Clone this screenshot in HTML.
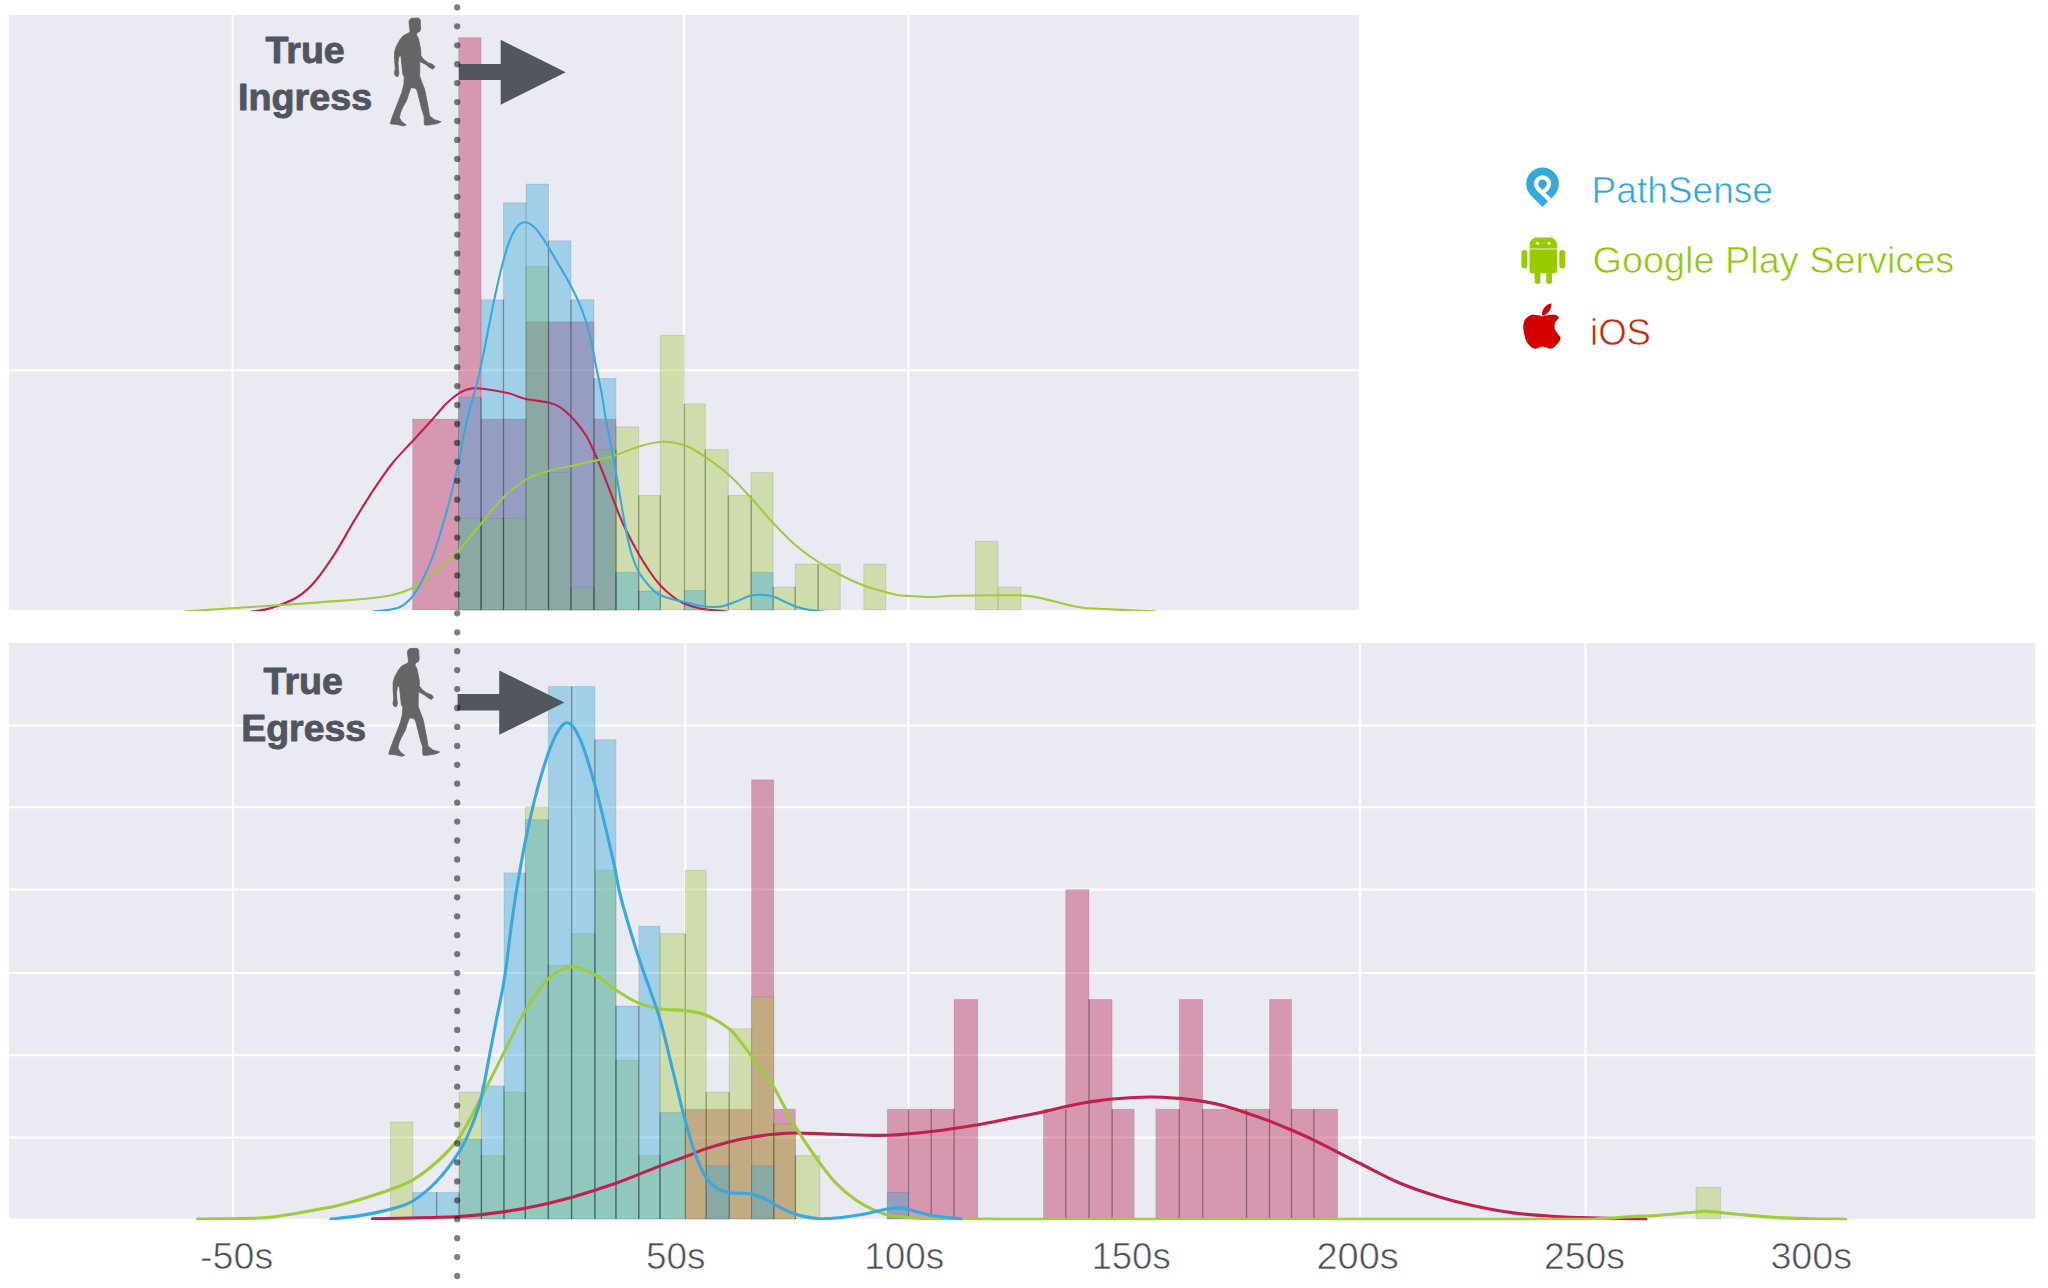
<!DOCTYPE html>
<html lang="en">
<head>
<meta charset="utf-8">
<title>True Ingress / True Egress detection latency</title>
<style>
html,body{margin:0;padding:0;background:#fff;}
body{width:2048px;height:1288px;overflow:hidden;}
svg{display:block;}
</style>
</head>
<body>
<svg width="2048" height="1288" viewBox="0 0 2048 1288">
<rect width="2048" height="1288" fill="#fff"/>
<rect x="8.9" y="15" width="1350.1" height="595" fill="#EAEAF2"/>
<line x1="232.5" y1="15" x2="232.5" y2="610" stroke="#fff" stroke-width="2"/>
<line x1="683.9" y1="15" x2="683.9" y2="610" stroke="#fff" stroke-width="2"/>
<line x1="908.4" y1="15" x2="908.4" y2="610" stroke="#fff" stroke-width="2"/>
<line x1="8.9" y1="370.2" x2="1359" y2="370.2" stroke="#fff" stroke-width="2"/>
<rect x="8.9" y="643" width="2026.4" height="575.7" fill="#EAEAF2"/>
<line x1="233" y1="643" x2="233" y2="1218.7" stroke="#fff" stroke-width="2"/>
<line x1="685.3" y1="643" x2="685.3" y2="1218.7" stroke="#fff" stroke-width="2"/>
<line x1="908.4" y1="643" x2="908.4" y2="1218.7" stroke="#fff" stroke-width="2"/>
<line x1="1360" y1="643" x2="1360" y2="1218.7" stroke="#fff" stroke-width="2"/>
<line x1="1585.5" y1="643" x2="1585.5" y2="1218.7" stroke="#fff" stroke-width="2"/>
<line x1="8.9" y1="725.5" x2="2035.3" y2="725.5" stroke="#fff" stroke-width="2"/>
<line x1="8.9" y1="807.3" x2="2035.3" y2="807.3" stroke="#fff" stroke-width="2"/>
<line x1="8.9" y1="889.6" x2="2035.3" y2="889.6" stroke="#fff" stroke-width="2"/>
<line x1="8.9" y1="973" x2="2035.3" y2="973" stroke="#fff" stroke-width="2"/>
<line x1="8.9" y1="1055.2" x2="2035.3" y2="1055.2" stroke="#fff" stroke-width="2"/>
<line x1="8.9" y1="1137.4" x2="2035.3" y2="1137.4" stroke="#fff" stroke-width="2"/>
<g id="top-bars">
<g fill="#B81B4D" fill-opacity="0.4" stroke="#000" stroke-opacity="0.10" stroke-width="1">
<rect x="412.6" y="419.1" width="46" height="190.9"/>
<rect x="458.6" y="37.6" width="22.5" height="572.4"/>
<rect x="481.1" y="419.1" width="44.9" height="190.9"/>
<rect x="526" y="321.7" width="68" height="288.3"/>
<rect x="594" y="419.1" width="22" height="190.9"/>
</g>
<g stroke="#000" stroke-opacity="0.20" stroke-width="1.5">
</g>
<g fill="#A4CA40" fill-opacity="0.4" stroke="#000" stroke-opacity="0.10" stroke-width="1">
<rect x="458.6" y="518.4" width="22.5" height="91.6"/>
<rect x="481.1" y="518.4" width="22.4" height="91.6"/>
<rect x="503.5" y="518.4" width="22.5" height="91.6"/>
<rect x="526" y="266.5" width="22.5" height="343.5"/>
<rect x="548.5" y="472.6" width="22.5" height="137.4"/>
<rect x="571" y="587.1" width="23" height="22.9"/>
<rect x="594" y="449.7" width="22" height="160.3"/>
<rect x="616" y="426.8" width="22.7" height="183.2"/>
<rect x="638.7" y="495.5" width="21.6" height="114.5"/>
<rect x="660.3" y="335.2" width="24.1" height="274.8"/>
<rect x="684.4" y="403.9" width="20.9" height="206.1"/>
<rect x="705.3" y="449.7" width="23" height="160.3"/>
<rect x="728.3" y="495.5" width="23" height="114.5"/>
<rect x="751.2" y="472.6" width="21.9" height="137.4"/>
<rect x="773.1" y="587.1" width="22.1" height="22.9"/>
<rect x="795.2" y="564.2" width="22.9" height="45.8"/>
<rect x="818.1" y="564.2" width="22.2" height="45.8"/>
<rect x="863.8" y="564.2" width="22" height="45.8"/>
<rect x="975.4" y="541.3" width="22.6" height="68.7"/>
<rect x="998" y="587.1" width="23" height="22.9"/>
</g>
<g stroke="#000" stroke-opacity="0.20" stroke-width="1.5">
<line x1="481.1" y1="518.4" x2="481.1" y2="610"/>
<line x1="503.5" y1="518.4" x2="503.5" y2="610"/>
<line x1="548.5" y1="472.6" x2="548.5" y2="610"/>
<line x1="571" y1="587.1" x2="571" y2="610"/>
<line x1="594" y1="587.1" x2="594" y2="610"/>
<line x1="616" y1="449.7" x2="616" y2="610"/>
<line x1="638.7" y1="495.5" x2="638.7" y2="610"/>
<line x1="660.3" y1="495.5" x2="660.3" y2="610"/>
<line x1="684.4" y1="403.9" x2="684.4" y2="610"/>
<line x1="705.3" y1="449.7" x2="705.3" y2="610"/>
<line x1="728.3" y1="495.5" x2="728.3" y2="610"/>
<line x1="751.2" y1="495.5" x2="751.2" y2="610"/>
<line x1="773.1" y1="587.1" x2="773.1" y2="610"/>
<line x1="795.2" y1="587.1" x2="795.2" y2="610"/>
<line x1="818.1" y1="564.2" x2="818.1" y2="610"/>
</g>
<g fill="#38A8DA" fill-opacity="0.4" stroke="#000" stroke-opacity="0.10" stroke-width="1">
<rect x="458.6" y="397.2" width="22.5" height="212.8"/>
<rect x="481.1" y="299.8" width="22.4" height="310.2"/>
<rect x="503.5" y="202.8" width="22.5" height="407.2"/>
<rect x="526" y="184" width="22.5" height="426"/>
<rect x="548.5" y="240.8" width="22.5" height="369.2"/>
<rect x="571" y="299.8" width="23" height="310.2"/>
<rect x="594" y="378.4" width="22" height="231.6"/>
<rect x="616" y="572.4" width="22.7" height="37.6"/>
<rect x="638.7" y="591" width="21.6" height="19"/>
<rect x="684.4" y="590.6" width="20.9" height="19.4"/>
<rect x="751.2" y="572.4" width="21.9" height="37.6"/>
</g>
<g stroke="#000" stroke-opacity="0.20" stroke-width="1.5">
<line x1="481.1" y1="397.2" x2="481.1" y2="610"/>
<line x1="503.5" y1="299.8" x2="503.5" y2="610"/>
<line x1="548.5" y1="240.8" x2="548.5" y2="610"/>
<line x1="571" y1="299.8" x2="571" y2="610"/>
<line x1="594" y1="378.4" x2="594" y2="610"/>
<line x1="616" y1="572.4" x2="616" y2="610"/>
<line x1="638.7" y1="591" x2="638.7" y2="610"/>
</g>
</g>
<g id="bot-bars">
<g fill="#B81B4D" fill-opacity="0.4" stroke="#000" stroke-opacity="0.10" stroke-width="1">
<rect x="685.3" y="1109.2" width="66.3" height="109.8"/>
<rect x="751.6" y="779.8" width="22.2" height="439.2"/>
<rect x="773.8" y="1109.2" width="21.6" height="109.8"/>
<rect x="887.3" y="1109.2" width="21.2" height="109.8"/>
<rect x="908.5" y="1109.2" width="22.7" height="109.8"/>
<rect x="931.2" y="1109.2" width="22.9" height="109.8"/>
<rect x="954.1" y="999.4" width="23.7" height="219.6"/>
<rect x="1043.5" y="1109.2" width="22.2" height="109.8"/>
<rect x="1065.7" y="889.6" width="23.3" height="329.4"/>
<rect x="1089" y="999.4" width="23.1" height="219.6"/>
<rect x="1112.1" y="1109.2" width="22.1" height="109.8"/>
<rect x="1155.8" y="1109.2" width="23.5" height="109.8"/>
<rect x="1179.3" y="999.4" width="23.4" height="219.6"/>
<rect x="1202.7" y="1109.2" width="43.8" height="109.8"/>
<rect x="1246.5" y="1109.2" width="23" height="109.8"/>
<rect x="1269.5" y="999.4" width="22" height="219.6"/>
<rect x="1291.5" y="1109.2" width="22.4" height="109.8"/>
<rect x="1313.9" y="1109.2" width="23.7" height="109.8"/>
</g>
<g stroke="#000" stroke-opacity="0.20" stroke-width="1.5">
<line x1="908.5" y1="1109.2" x2="908.5" y2="1219"/>
<line x1="931.2" y1="1109.2" x2="931.2" y2="1219"/>
<line x1="954.1" y1="1109.2" x2="954.1" y2="1219"/>
<line x1="1065.7" y1="1109.2" x2="1065.7" y2="1219"/>
<line x1="1089" y1="999.4" x2="1089" y2="1219"/>
<line x1="1112.1" y1="1109.2" x2="1112.1" y2="1219"/>
<line x1="1179.3" y1="1109.2" x2="1179.3" y2="1219"/>
<line x1="1202.7" y1="1109.2" x2="1202.7" y2="1219"/>
<line x1="1246.5" y1="1109.2" x2="1246.5" y2="1219"/>
<line x1="1269.5" y1="1109.2" x2="1269.5" y2="1219"/>
<line x1="1291.5" y1="1109.2" x2="1291.5" y2="1219"/>
<line x1="1313.9" y1="1109.2" x2="1313.9" y2="1219"/>
</g>
<g fill="#A4CA40" fill-opacity="0.4" stroke="#000" stroke-opacity="0.10" stroke-width="1">
<rect x="390.6" y="1122" width="22.2" height="97"/>
<rect x="459.1" y="1092.2" width="22.3" height="126.8"/>
<rect x="481.4" y="1155.6" width="22.6" height="63.4"/>
<rect x="504" y="1092.2" width="21.3" height="126.8"/>
<rect x="525.3" y="806.9" width="23" height="412.1"/>
<rect x="548.3" y="965.4" width="23.3" height="253.6"/>
<rect x="571.6" y="933.7" width="23.3" height="285.3"/>
<rect x="594.9" y="870.3" width="21.1" height="348.7"/>
<rect x="616" y="1060.5" width="22.8" height="158.5"/>
<rect x="638.8" y="1155.6" width="21.2" height="63.4"/>
<rect x="660" y="933.7" width="25.3" height="285.3"/>
<rect x="685.3" y="870.3" width="20.9" height="348.7"/>
<rect x="706.2" y="1092.2" width="23" height="126.8"/>
<rect x="729.2" y="1028.8" width="22.4" height="190.2"/>
<rect x="751.6" y="997.1" width="22.2" height="221.9"/>
<rect x="773.8" y="1123.9" width="21.6" height="95.1"/>
<rect x="795.4" y="1155.6" width="24.5" height="63.4"/>
<rect x="1696" y="1187.3" width="24.6" height="31.7"/>
</g>
<g stroke="#000" stroke-opacity="0.20" stroke-width="1.5">
<line x1="481.4" y1="1155.6" x2="481.4" y2="1219"/>
<line x1="504" y1="1155.6" x2="504" y2="1219"/>
<line x1="525.3" y1="1092.2" x2="525.3" y2="1219"/>
<line x1="548.3" y1="965.4" x2="548.3" y2="1219"/>
<line x1="571.6" y1="965.4" x2="571.6" y2="1219"/>
<line x1="594.9" y1="933.7" x2="594.9" y2="1219"/>
<line x1="616" y1="1060.5" x2="616" y2="1219"/>
<line x1="638.8" y1="1155.6" x2="638.8" y2="1219"/>
<line x1="660" y1="1155.6" x2="660" y2="1219"/>
<line x1="685.3" y1="933.7" x2="685.3" y2="1219"/>
<line x1="706.2" y1="1092.2" x2="706.2" y2="1219"/>
<line x1="729.2" y1="1092.2" x2="729.2" y2="1219"/>
<line x1="773.8" y1="1123.9" x2="773.8" y2="1219"/>
<line x1="795.4" y1="1155.6" x2="795.4" y2="1219"/>
</g>
<g fill="#38A8DA" fill-opacity="0.4" stroke="#000" stroke-opacity="0.10" stroke-width="1">
<rect x="412.8" y="1192.4" width="23.8" height="26.6"/>
<rect x="436.6" y="1192.4" width="22.5" height="26.6"/>
<rect x="459.1" y="1139.1" width="22.3" height="79.9"/>
<rect x="481.4" y="1085.9" width="22.6" height="133.1"/>
<rect x="504" y="872.9" width="21.3" height="346.1"/>
<rect x="525.3" y="819.7" width="23" height="399.3"/>
<rect x="548.3" y="686.6" width="23.3" height="532.4"/>
<rect x="571.6" y="686.6" width="23.3" height="532.4"/>
<rect x="594.9" y="739.8" width="21.1" height="479.2"/>
<rect x="616" y="1006" width="22.8" height="213"/>
<rect x="638.8" y="926.2" width="21.2" height="292.8"/>
<rect x="660" y="1112.5" width="25.3" height="106.5"/>
<rect x="706.2" y="1165.8" width="23" height="53.2"/>
<rect x="751.6" y="1165.8" width="22.2" height="53.2"/>
<rect x="887.3" y="1192.4" width="21.2" height="26.6"/>
</g>
<g stroke="#000" stroke-opacity="0.20" stroke-width="1.5">
<line x1="436.6" y1="1192.4" x2="436.6" y2="1219"/>
<line x1="459.1" y1="1192.4" x2="459.1" y2="1219"/>
<line x1="481.4" y1="1139.1" x2="481.4" y2="1219"/>
<line x1="504" y1="1085.9" x2="504" y2="1219"/>
<line x1="525.3" y1="872.9" x2="525.3" y2="1219"/>
<line x1="548.3" y1="819.7" x2="548.3" y2="1219"/>
<line x1="571.6" y1="686.6" x2="571.6" y2="1219"/>
<line x1="594.9" y1="739.8" x2="594.9" y2="1219"/>
<line x1="616" y1="1006" x2="616" y2="1219"/>
<line x1="638.8" y1="1006" x2="638.8" y2="1219"/>
<line x1="660" y1="1112.5" x2="660" y2="1219"/>
</g>
</g>
<clipPath id="ct"><rect x="0" y="0" width="2048" height="610.9"/></clipPath><clipPath id="cb"><rect x="0" y="630" width="2048" height="590.3"/></clipPath>
<g id="top-curves" clip-path="url(#ct)">
<path d="M251 611.6C253.3 611.3 260.5 610.6 265 609.6C269.5 608.6 272.6 607.9 278 605.8C283.4 603.7 291.3 601 297.5 597C303.7 593 308.9 588.6 315 581.5C321.1 574.4 327.9 564.4 334.4 554.4C340.9 544.4 347.3 532.1 353.8 521.4C360.3 510.7 366.7 500 373.2 490.3C379.7 480.6 386.1 471.1 392.6 463C399.1 454.9 405.5 448.9 412 441.8C418.5 434.7 425.6 427 431.4 420.5C437.2 414 442.1 407.7 447 403C451.9 398.3 456.4 394.7 460.5 392.3C464.6 389.9 467.7 388.9 471.8 388.4C475.9 387.8 478.9 388.2 485 389C491.1 389.8 501.8 391.6 508.7 393.3C515.5 395 519.5 397.6 526.1 399.1C532.7 400.6 542.7 401.1 548.5 402.5C554.3 403.9 556.6 404.8 561 407.8C565.4 410.8 570.5 415.8 574.7 420.5C578.9 425.2 583.1 430.8 586.3 436C589.5 441.2 591.1 445 594 451.5C596.9 458 600.3 466.1 603.8 474.8C607.3 483.6 611.5 495.1 615 504C618.5 512.9 621 519.7 625 528C629 536.3 634.5 546.7 638.7 554C642.9 561.3 646.5 566.8 650 572C653.5 577.2 656.3 581 660 585C663.7 589 668.2 593 672 596C675.8 599 678.3 600.9 683 603C687.7 605.1 692.7 607.1 700 608.5C707.3 609.9 722.5 611.1 727 611.6" fill="none" stroke="#C0204E" stroke-width="2.1" stroke-linecap="round" stroke-linejoin="round"/>
<path d="M184 611.6C191.9 611 214.5 609.4 231.5 608.3C248.5 607.2 270.3 605.9 285.8 604.8C301.3 603.7 311.8 602.9 324.7 601.9C337.6 600.9 352.2 600.1 363.5 599C374.8 597.9 384.5 596.8 392.6 595C400.7 593.2 405.5 591.5 412 588.3C418.5 585.1 425.6 580.1 431.4 575.7C437.2 571.3 442.1 566.5 447 562C451.9 557.5 454.8 555 460.5 548.5C466.2 542 474.4 531.7 481.5 523.3C488.6 514.9 495.5 505.3 502.9 498C510.3 490.7 518.4 484.1 526 479.6C533.6 475.1 541 473.3 548.5 471C556 468.7 563.2 467.7 570.8 466C578.4 464.3 586.6 462.8 594 461C601.4 459.2 607.5 457.8 615 455.4C622.5 453 630.9 449 638.7 446.7C646.5 444.4 654.6 442.1 662 441.8C669.4 441.5 676.7 442.8 683 444.7C689.3 446.6 692.4 448.4 700 453.4C707.6 458.4 720.2 467.4 728.7 474.8C737.2 482.2 743.5 489.9 751 498C758.5 506.1 766.1 515.5 773.4 523.3C780.7 531.1 787.5 538.2 795 544.7C802.5 551.2 810.9 557 818.4 562C825.9 567 832.5 570.8 840 574.7C847.5 578.6 855.9 582.5 863.6 585.4C871.3 588.3 880.7 590.6 886.3 592.2C891.9 593.8 893.1 594.4 897 595C900.9 595.6 904.3 595.7 909.6 596C914.9 596.3 921.9 597 929 597C936.1 597 942.7 596.1 952 595.8C961.3 595.5 973.4 595.5 985 595.4C996.6 595.3 1012 594.9 1021.5 595.4C1031 595.9 1035.2 597 1042 598.4C1048.8 599.8 1055.7 602 1062.5 603.6C1069.3 605.2 1072.8 606.7 1083 607.7C1093.2 608.8 1112 609.3 1124 609.9C1136 610.5 1149.7 611.1 1154.8 611.4" fill="none" stroke="#9FCC3A" stroke-width="2.1" stroke-linecap="round" stroke-linejoin="round"/>
<path d="M373 611.6C377.2 611 391.9 610.1 398.4 607.7C404.9 605.3 408.1 601.4 412 597C415.9 592.6 418.5 587.7 421.7 581.5C424.9 575.3 428.2 568.4 431.4 560C434.6 551.6 437.8 541.7 441 531C444.2 520.3 447.9 507.3 450.8 496C453.7 484.7 456.3 473.7 458.6 463C460.9 452.3 462.5 441.2 464.4 432C466.3 422.8 467.8 416.5 470 408C472.2 399.5 475 391.7 477.6 381C480.2 370.3 482.8 356.6 485.4 344C488 331.4 490.5 317.5 493.1 305.2C495.7 292.9 498.3 280.7 500.9 270.3C503.5 259.9 506.1 250.2 508.7 243.1C511.3 236 513.8 231.1 516.4 227.6C519 224.1 521.3 222.3 524.2 222.2C527.1 222 530.7 223.8 533.9 226.7C537.1 229.5 540 234 543.6 239.3C547.2 244.6 550.7 250.9 555.2 258.7C559.7 266.4 566.3 277.1 570.8 285.8C575.3 294.5 579.2 302.6 582.4 311C585.6 319.4 587.9 327.1 590.2 336.3C592.5 345.5 594.1 356.4 596 366C597.9 375.6 600.2 385.2 601.8 394C603.4 402.8 603.5 406.3 605.7 418.5C607.9 430.7 611.8 449.2 615 467C618.2 484.8 622.3 510.8 625 525C627.7 539.2 628.7 544.2 631 552C633.3 559.8 635.5 565.9 638.7 571.8C641.9 577.7 646.8 583.4 650.3 587.3C653.8 591.2 655.8 592.9 660 595C664.2 597.1 670.4 598.6 675.6 600C680.8 601.4 686.9 602.5 691 603.5C695.1 604.5 695.3 605.2 700 605.8C704.7 606.3 713.2 607.4 719 606.8C724.8 606.2 729.7 603.9 735 602C740.3 600.1 746.2 596.7 751 595.5C755.8 594.3 760.3 594.8 764 595C767.7 595.2 769.4 595.3 773 596.5C776.6 597.7 781.4 600.2 785.4 602C789.4 603.8 792.9 605.7 797 607C801.1 608.3 805.5 609.2 810 610C814.5 610.8 821.7 611.3 824 611.6" fill="none" stroke="#37A9DC" stroke-width="2.1" stroke-linecap="round" stroke-linejoin="round"/>
</g>
<g id="bot-curves" clip-path="url(#cb)">
<path d="M372.4 1218.8C380.3 1218.6 405.6 1218.2 420 1217.8C434.4 1217.4 448.8 1217 459 1216.5C469.2 1216 470.4 1216 481.4 1214.6C492.4 1213.2 510.2 1211.2 525.2 1208.3C540.2 1205.4 556.2 1201.6 571.3 1197.4C586.4 1193.2 601.1 1188.5 615.8 1183.3C630.5 1178.1 647.9 1170.5 659.5 1166.1C671.1 1161.7 677.6 1159.7 685.3 1156.8C693 1153.9 698.3 1151.4 705.6 1148.9C712.9 1146.4 721.6 1143.8 729 1141.9C736.4 1140 742.5 1138.8 750 1137.5C757.5 1136.2 766.1 1135 773.7 1134.3C781.3 1133.5 785 1133 795.4 1133C805.8 1133 821 1133.9 836.3 1134.3C851.6 1134.7 871.5 1135.8 887.3 1135.3C903.1 1134.8 916.1 1133.3 931.2 1131.5C946.3 1129.7 964.8 1126.9 977.8 1124.7C990.8 1122.5 999.1 1120.5 1009.5 1118.5C1019.9 1116.5 1030.6 1114.5 1040 1112.5C1049.4 1110.5 1057.7 1108.2 1066 1106.4C1074.3 1104.7 1081.9 1103.2 1089.6 1102C1097.3 1100.8 1102.4 1099.8 1112.3 1099C1122.2 1098.2 1138 1097.1 1149.2 1097C1160.4 1096.9 1170.3 1097.7 1179.3 1098.4C1188.2 1099.1 1195.6 1100.2 1202.9 1101.4C1210.2 1102.6 1215.7 1103.6 1223 1105.5C1230.3 1107.4 1238.7 1110.4 1246.5 1113C1254.3 1115.6 1262.1 1118.3 1269.6 1121.1C1277.1 1123.9 1283.9 1126.8 1291.4 1130C1298.9 1133.2 1306.7 1136.6 1314.4 1140.3C1322.1 1144 1329.8 1148.2 1337.4 1152.1C1345 1156 1350.1 1158.5 1360.2 1163.5C1370.3 1168.5 1385.1 1176.8 1397.8 1182.2C1410.5 1187.6 1423.5 1192 1436.3 1196C1449.1 1200 1462 1203.2 1474.8 1206C1487.6 1208.8 1500.5 1211.2 1513.3 1212.9C1526.1 1214.6 1539 1215.4 1551.8 1216.2C1564.6 1217 1574.6 1217.4 1590.3 1217.9C1606 1218.4 1636.7 1219.2 1646 1219.4" fill="none" stroke="#C0204E" stroke-width="3.1" stroke-linecap="round" stroke-linejoin="round"/>
<path d="M197.5 1219.1C204.6 1219 227.4 1218.8 240 1218.5C252.6 1218.2 258.7 1218.8 273 1217C287.3 1215.2 314.6 1210 325.8 1208C337 1206 333.5 1206.7 340 1205C346.5 1203.3 356.6 1200.6 365 1198C373.4 1195.4 382.4 1192.5 390.4 1189.5C398.4 1186.5 405.1 1184.6 412.8 1180C420.5 1175.4 429 1169 436.7 1162C444.4 1155 451.6 1148.8 459 1138C466.4 1127.2 473.8 1111.4 481.4 1097C489 1082.6 497.3 1065.8 504.6 1051.4C511.9 1037 518 1022.7 525.4 1010.6C532.8 998.5 540.9 985.9 548.7 978.6C556.5 971.3 564.3 967.6 572 967C579.7 966.4 587.3 970.8 594.7 974.7C602.1 978.6 608.9 985.5 616.2 990.2C623.5 994.9 630.9 999.8 638.3 1002.9C645.6 1006 652.4 1007.7 660.3 1009C668.2 1010.3 677.8 1009.5 685.5 1010.6C693.2 1011.7 699.5 1012.4 706.8 1015.5C714.1 1018.6 724 1024.8 729.5 1029C735 1033.2 736.3 1036.5 740 1041C743.7 1045.5 748.2 1051.7 751.5 1056C754.8 1060.3 756.3 1061.8 760 1067C763.7 1072.2 767.8 1077.1 773.7 1087C779.6 1096.9 787.7 1113.9 795.4 1126.6C803.1 1139.3 813.1 1153.7 819.9 1163.2C826.7 1172.7 830.4 1177.3 836.3 1183.4C842.2 1189.5 849.1 1195.3 855.5 1199.8C861.9 1204.3 868.4 1207.7 874.8 1210.4C881.2 1213.1 884.4 1214.8 894 1216.2C903.6 1217.6 914.8 1218.3 932.5 1218.8C950.2 1219.3 978.8 1219.1 1000 1219.2C1021.2 1219.3 1010 1219.3 1060 1219.3C1110 1219.3 1216.7 1219.3 1300 1219.3C1383.3 1219.3 1510 1219.4 1560 1219.3C1610 1219.2 1588.5 1219 1600 1218.6C1611.5 1218.2 1618.8 1217.3 1628.8 1216.7C1638.8 1216.1 1648.8 1216 1660 1215.2C1671.2 1214.4 1688 1212.6 1696 1212C1704 1211.4 1701.2 1211 1708 1211.4C1714.8 1211.8 1725.8 1213.2 1737 1214.2C1748.2 1215.2 1763.3 1216.8 1775.5 1217.5C1787.7 1218.2 1798.3 1218.4 1810 1218.7C1821.7 1219 1839.8 1219.1 1845.8 1219.2" fill="none" stroke="#9FCC3A" stroke-width="3.1" stroke-linecap="round" stroke-linejoin="round"/>
<path d="M331 1219.1C336 1218.5 351.1 1217 361 1215.4C370.9 1213.8 381.8 1211.7 390.4 1209.3C399 1206.9 405.1 1205.7 412.8 1201C420.5 1196.3 429 1189.4 436.7 1181.3C444.4 1173.2 453.2 1161.2 459 1152.2C464.8 1143.2 467.6 1136 471.3 1127C475 1118 478.2 1109.5 481.2 1098C484.1 1086.5 486.5 1071 489 1058C491.5 1045 493.7 1033.7 496.3 1020.3C498.9 1006.9 502 994 504.6 977.6C507.2 961.2 509.6 937.6 511.8 922C514 906.4 515.3 897.5 517.6 884C519.9 870.5 522.2 856.4 525.4 840.8C528.6 825.2 533.1 805.1 537 790.3C540.9 775.5 545.5 761.4 548.7 752C551.9 742.6 554.2 738.4 556.4 734C558.6 729.6 560.2 727.5 562 725.6C563.8 723.7 565.3 722.8 567 722.8C568.7 722.8 570.5 724 572 725.4C573.5 726.8 574.1 727.3 576 731C577.9 734.7 580.3 738.5 583.5 747.7C586.7 756.9 591.7 773.5 595.3 786.4C598.9 799.3 601.9 812.4 605 825.3C608.1 838.2 611.3 851.9 614 864C616.7 876.1 617 882.6 621 898C625 913.4 633.6 941.5 638.3 956.3C643 971.1 645.3 976.3 649 987C652.7 997.7 656.3 1006.3 660.3 1020.3C664.3 1034.3 668.7 1054 672.9 1070.8C677.1 1087.6 681.4 1106.7 685.3 1121C689.2 1135.3 692.9 1147.5 696.3 1156.8C699.7 1166.1 702.2 1171.8 705.6 1177C709 1182.2 712.7 1185.4 716.6 1188C720.5 1190.6 725.1 1191.8 729 1192.7C732.9 1193.6 736.2 1193 740 1193.2C743.8 1193.5 747.4 1193.3 751.6 1194.2C755.8 1195.1 760.5 1196.8 765 1198.8C769.5 1200.8 773.4 1203.9 778.5 1206.5C783.6 1209.1 789 1212.2 795.4 1214.2C801.8 1216.2 810.2 1217.9 817 1218.5C823.8 1219.1 828.6 1218.7 836.3 1218C844 1217.3 854.7 1215.7 863.2 1214.2C871.7 1212.7 881.8 1210 887.3 1209C892.8 1208 892.5 1207.8 896 1207.9C899.5 1208 902.6 1208.2 908.5 1209.4C914.4 1210.6 922.4 1213.6 931.2 1215.2C940 1216.8 956.4 1218.4 961.4 1219" fill="none" stroke="#37A9DC" stroke-width="3.1" stroke-linecap="round" stroke-linejoin="round"/>
</g>
<path d="M409.1 20.7 L411.1 18.3 L418.8 18 L420.3 20.2 L420.3 24.6 L420.8 28 L419.8 31.4 L417.4 32.5 L416.4 34.8 L418.3 38.2 L419.8 45 L420.8 50.8 L420.8 55.6 L423.7 59.5 L428.5 62.9 L432.9 64.4 L434.9 66.8 L432.9 69.2 L430 67.8 L425.6 64.4 L420.8 61.9 L419.8 61.5 L419.8 68.3 L419.6 76 L421.7 81.8 L424.7 89.6 L426.6 99.3 L428.5 109 L429.5 115.8 L434.4 119.7 L441.2 121.7 L437.3 123.6 L428.5 125 L424.7 125 L424.2 122.6 L424.2 116.8 L421.7 109 L419.3 99.3 L417.4 91.6 L415.9 88.6 L413 87.7 L411.1 87.7 L409.1 92.5 L406.7 100.3 L402.8 107.1 L400.4 112.9 L399.4 117.8 L401.8 121.7 L406.2 125 L403.3 126 L397.5 124.6 L390.2 123.8 L391.7 118.7 L394.6 111 L398.4 101.3 L401.8 92.5 L403.8 84.8 L404.3 77 L402.8 74.1 L401.8 64.4 L400.9 55.6 L398.9 56.6 L398 62.4 L398.4 69.2 L398.9 73.1 L398 76.5 L395.5 76 L394.4 73.6 L395.3 68.3 L394.6 60.5 L394.6 51.7 L396.5 45.9 L400.4 39.1 L403.3 35.7 L408.2 33.3 L410.1 31.8 L409.6 27.5 L409.1 23.6Z" fill="#656568" stroke="#656568" stroke-width="0.8" stroke-linejoin="round"/>
<path d="M407.6 651 L409.6 648.6 L417.3 648.3 L418.8 650.5 L418.8 654.9 L419.3 658.3 L418.3 661.7 L415.9 662.8 L414.9 665.1 L416.8 668.5 L418.3 675.3 L419.3 681.1 L419.3 685.9 L422.2 689.8 L427 693.2 L431.4 694.7 L433.4 697.1 L431.4 699.5 L428.5 698.1 L424.1 694.7 L419.3 692.2 L418.3 691.8 L418.3 698.6 L418.1 706.3 L420.2 712.1 L423.2 719.9 L425.1 729.6 L427 739.3 L428 746.1 L432.9 750 L439.7 752 L435.8 753.9 L427 755.3 L423.2 755.3 L422.7 752.9 L422.7 747.1 L420.2 739.3 L417.8 729.6 L415.9 721.9 L414.4 718.9 L411.5 718 L409.6 718 L407.6 722.8 L405.2 730.6 L401.3 737.4 L398.9 743.2 L397.9 748.1 L400.3 752 L404.7 755.3 L401.8 756.3 L396 754.9 L388.7 754.1 L390.2 749 L393.1 741.3 L396.9 731.6 L400.3 722.8 L402.3 715.1 L402.8 707.3 L401.3 704.4 L400.3 694.7 L399.4 685.9 L397.4 686.9 L396.5 692.7 L396.9 699.5 L397.4 703.4 L396.5 706.8 L394 706.3 L392.9 703.9 L393.8 698.6 L393.1 690.8 L393.1 682 L395 676.2 L398.9 669.4 L401.8 666 L406.7 663.6 L408.6 662.1 L408.1 657.8 L407.6 653.9Z" fill="#656568" stroke="#656568" stroke-width="0.8" stroke-linejoin="round"/>
<path d="M459 64 H500.7 V39.8 L565.7 72.2 L500.7 104.7 V79.9 H459 Z" fill="#52565F"/>
<path d="M457.6 694.1 H499.2 V670.5 L564.4 702.6 L499.2 734.8 V710.5 H457.6 Z" fill="#52565F"/>
<g fill="#000" fill-opacity="0.5">
<circle cx="457.2" cy="7.4" r="3.15"/>
<circle cx="457.2" cy="26.3" r="3.15"/>
<circle cx="457.2" cy="45.3" r="3.15"/>
<circle cx="457.2" cy="64.2" r="3.15"/>
<circle cx="457.2" cy="83.1" r="3.15"/>
<circle cx="457.2" cy="102.1" r="3.15"/>
<circle cx="457.2" cy="121" r="3.15"/>
<circle cx="457.2" cy="139.9" r="3.15"/>
<circle cx="457.2" cy="158.9" r="3.15"/>
<circle cx="457.2" cy="177.8" r="3.15"/>
<circle cx="457.2" cy="196.8" r="3.15"/>
<circle cx="457.2" cy="215.7" r="3.15"/>
<circle cx="457.2" cy="234.6" r="3.15"/>
<circle cx="457.2" cy="253.6" r="3.15"/>
<circle cx="457.2" cy="272.5" r="3.15"/>
<circle cx="457.2" cy="291.4" r="3.15"/>
<circle cx="457.2" cy="310.4" r="3.15"/>
<circle cx="457.2" cy="329.3" r="3.15"/>
<circle cx="457.2" cy="348.2" r="3.15"/>
<circle cx="457.2" cy="367.2" r="3.15"/>
<circle cx="457.2" cy="386.1" r="3.15"/>
<circle cx="457.2" cy="405" r="3.15"/>
<circle cx="457.2" cy="424" r="3.15"/>
<circle cx="457.2" cy="442.9" r="3.15"/>
<circle cx="457.2" cy="461.8" r="3.15"/>
<circle cx="457.2" cy="480.8" r="3.15"/>
<circle cx="457.2" cy="499.7" r="3.15"/>
<circle cx="457.2" cy="518.6" r="3.15"/>
<circle cx="457.2" cy="537.6" r="3.15"/>
<circle cx="457.2" cy="556.5" r="3.15"/>
<circle cx="457.2" cy="575.4" r="3.15"/>
<circle cx="457.2" cy="594.4" r="3.15"/>
<circle cx="457.2" cy="613.3" r="3.15"/>
<circle cx="457.2" cy="632.3" r="3.15"/>
<circle cx="457.2" cy="651.2" r="3.15"/>
<circle cx="457.2" cy="670.1" r="3.15"/>
<circle cx="457.2" cy="689.1" r="3.15"/>
<circle cx="457.2" cy="708" r="3.15"/>
<circle cx="457.2" cy="726.9" r="3.15"/>
<circle cx="457.2" cy="745.9" r="3.15"/>
<circle cx="457.2" cy="764.8" r="3.15"/>
<circle cx="457.2" cy="783.7" r="3.15"/>
<circle cx="457.2" cy="802.7" r="3.15"/>
<circle cx="457.2" cy="821.6" r="3.15"/>
<circle cx="457.2" cy="840.5" r="3.15"/>
<circle cx="457.2" cy="859.5" r="3.15"/>
<circle cx="457.2" cy="878.4" r="3.15"/>
<circle cx="457.2" cy="897.3" r="3.15"/>
<circle cx="457.2" cy="916.3" r="3.15"/>
<circle cx="457.2" cy="935.2" r="3.15"/>
<circle cx="457.2" cy="954.1" r="3.15"/>
<circle cx="457.2" cy="973.1" r="3.15"/>
<circle cx="457.2" cy="992" r="3.15"/>
<circle cx="457.2" cy="1011" r="3.15"/>
<circle cx="457.2" cy="1029.9" r="3.15"/>
<circle cx="457.2" cy="1048.8" r="3.15"/>
<circle cx="457.2" cy="1067.8" r="3.15"/>
<circle cx="457.2" cy="1086.7" r="3.15"/>
<circle cx="457.2" cy="1105.6" r="3.15"/>
<circle cx="457.2" cy="1124.6" r="3.15"/>
<circle cx="457.2" cy="1143.5" r="3.15"/>
<circle cx="457.2" cy="1162.4" r="3.15"/>
<circle cx="457.2" cy="1181.4" r="3.15"/>
<circle cx="457.2" cy="1200.3" r="3.15"/>
<circle cx="457.2" cy="1219.2" r="3.15"/>
<circle cx="457.2" cy="1238.2" r="3.15"/>
<circle cx="457.2" cy="1257.1" r="3.15"/>
<circle cx="457.2" cy="1276" r="3.15"/>
</g>
<text x="265.4" y="63.1" font-family="'Liberation Sans', Arial, Helvetica, sans-serif" font-size="37.2" font-weight="bold" fill="#51555E" text-anchor="start" stroke="#51555E" stroke-width="0.9" stroke-linejoin="round" textLength="79.4" lengthAdjust="spacingAndGlyphs">True</text>
<text x="238" y="110.3" font-family="'Liberation Sans', Arial, Helvetica, sans-serif" font-size="37.2" font-weight="bold" fill="#51555E" text-anchor="start" stroke="#51555E" stroke-width="0.9" stroke-linejoin="round" textLength="134.2" lengthAdjust="spacingAndGlyphs">Ingress</text>
<text x="263.5" y="694.3" font-family="'Liberation Sans', Arial, Helvetica, sans-serif" font-size="37.2" font-weight="bold" fill="#51555E" text-anchor="start" stroke="#51555E" stroke-width="0.9" stroke-linejoin="round" textLength="79.4" lengthAdjust="spacingAndGlyphs">True</text>
<text x="241.2" y="741.3" font-family="'Liberation Sans', Arial, Helvetica, sans-serif" font-size="37.2" font-weight="bold" fill="#51555E" text-anchor="start" stroke="#51555E" stroke-width="0.9" stroke-linejoin="round" textLength="125" lengthAdjust="spacingAndGlyphs">Egress</text>
<text x="200" y="1268.6" font-family="'Liberation Sans', Arial, Helvetica, sans-serif" font-size="36" font-weight="normal" fill="#4B5058" text-anchor="start" stroke="#fff" stroke-width="0.6" stroke-linejoin="round" textLength="73.2" lengthAdjust="spacingAndGlyphs">-50s</text>
<text x="646" y="1268.6" font-family="'Liberation Sans', Arial, Helvetica, sans-serif" font-size="36" font-weight="normal" fill="#4B5058" text-anchor="start" stroke="#fff" stroke-width="0.6" stroke-linejoin="round" textLength="59.6" lengthAdjust="spacingAndGlyphs">50s</text>
<text x="864.2" y="1268.6" font-family="'Liberation Sans', Arial, Helvetica, sans-serif" font-size="36" font-weight="normal" fill="#4B5058" text-anchor="start" stroke="#fff" stroke-width="0.6" stroke-linejoin="round" textLength="80" lengthAdjust="spacingAndGlyphs">100s</text>
<text x="1091.4" y="1268.6" font-family="'Liberation Sans', Arial, Helvetica, sans-serif" font-size="36" font-weight="normal" fill="#4B5058" text-anchor="start" stroke="#fff" stroke-width="0.6" stroke-linejoin="round" textLength="79.4" lengthAdjust="spacingAndGlyphs">150s</text>
<text x="1316.4" y="1268.6" font-family="'Liberation Sans', Arial, Helvetica, sans-serif" font-size="36" font-weight="normal" fill="#4B5058" text-anchor="start" stroke="#fff" stroke-width="0.6" stroke-linejoin="round" textLength="82.4" lengthAdjust="spacingAndGlyphs">200s</text>
<text x="1544" y="1268.6" font-family="'Liberation Sans', Arial, Helvetica, sans-serif" font-size="36" font-weight="normal" fill="#4B5058" text-anchor="start" stroke="#fff" stroke-width="0.6" stroke-linejoin="round" textLength="81" lengthAdjust="spacingAndGlyphs">250s</text>
<text x="1770.4" y="1268.6" font-family="'Liberation Sans', Arial, Helvetica, sans-serif" font-size="36" font-weight="normal" fill="#4B5058" text-anchor="start" stroke="#fff" stroke-width="0.6" stroke-linejoin="round" textLength="81.8" lengthAdjust="spacingAndGlyphs">300s</text>
<text x="1591.6" y="202.5" font-family="'Liberation Sans', Arial, Helvetica, sans-serif" font-size="36" font-weight="normal" fill="#2FA6DB" text-anchor="start" stroke="#fff" stroke-width="0.6" stroke-linejoin="round" textLength="181.4" lengthAdjust="spacingAndGlyphs">PathSense</text>
<text x="1592.6" y="273.3" font-family="'Liberation Sans', Arial, Helvetica, sans-serif" font-size="36" font-weight="normal" fill="#8DC800" text-anchor="start" stroke="#fff" stroke-width="0.6" stroke-linejoin="round" textLength="361.6" lengthAdjust="spacingAndGlyphs">Google Play Services</text>
<text x="1590" y="345.3" font-family="'Liberation Sans', Arial, Helvetica, sans-serif" font-size="36" font-weight="normal" fill="#C5280C" text-anchor="start" stroke="#fff" stroke-width="0.6" stroke-linejoin="round" textLength="61" lengthAdjust="spacingAndGlyphs">iOS</text>
<path d="M1531 195.4 A16.3 16.3 0 1 1 1554.1 195.4 L1542.5 207 Z" fill="#34A9DC"/>
<path d="M1536.5 189.9 A8.6 8.6 0 1 1 1548.6 189.9 L1542.5 196 Z" fill="#fff"/>
<path d="M1536.5 189.9 L1562.5 215.9 L1565.1 212.5 L1539.1 186.5 Z" fill="#fff"/>
<path d="M1539.5 186.9 A4.3 4.3 0 1 1 1545.6 186.9 L1542.5 190 Z" fill="#34A9DC"/>
<g fill="#99CC00">
<path d="M1529.6 248.3 V244.6 A7.4 7.2 0 0 1 1537 237.4 H1549.6 A7.4 7.2 0 0 1 1557 244.6 V248.3 Z"/>
<rect x="1529.6" y="248.3" width="27.4" height="1.5" fill-opacity="0.62"/>
<path d="M1529.6 249.7 H1557 V271.0 a2.2 2.2 0 0 1 -2.2 2.2 H1531.8 a2.2 2.2 0 0 1 -2.2 -2.2 Z"/>
<rect x="1521.4" y="249.9" width="6" height="18.5" rx="3"/>
<rect x="1559.3" y="249.9" width="6" height="18.5" rx="3"/>
<rect x="1534.6" y="268" width="5.8" height="15.8" rx="2.6"/>
<rect x="1546.2" y="268" width="5.8" height="15.8" rx="2.6"/>
<path d="M1534.4 235.2 L1536.2 238.6 M1551.9 235.2 L1550.3 238.6" stroke="#99CC00" stroke-opacity="0.45" stroke-width="1" stroke-linecap="round"/>
</g>
<circle cx="1537.5" cy="243.2" r="1.55" fill="#fff" fill-opacity="0.9"/><circle cx="1549.1" cy="243.2" r="1.55" fill="#fff" fill-opacity="0.9"/>
<g fill="#D40000">
<path d="M1526.4 317.9C1527.5 316.8 1528.9 315.8 1530.6 315.2C1532.3 314.6 1533.8 314.9 1535.5 314.9C1537.2 314.9 1538.7 315.1 1539.9 315.4C1541.1 315.7 1541.4 316.4 1542.3 316.4C1543.2 316.4 1543.2 315.7 1544.6 315.4C1546 315.1 1547.9 314.9 1550 314.9C1552.1 314.9 1554.6 314.6 1556.2 315.2C1557.8 315.8 1558.8 316.7 1558.7 317.9C1558.6 319.1 1556.4 320.1 1555.6 321.6C1554.8 323.1 1554.5 324.6 1554.5 326.3C1554.5 328 1555 329.4 1555.8 331C1556.6 332.6 1557.7 333.6 1558.6 334.9C1559.5 336.2 1560.5 336.5 1560.5 337.9C1560.5 339.3 1559.8 340.9 1558.6 342.6C1557.4 344.3 1555.4 346.2 1553.9 347.3C1552.4 348.4 1551.6 348.6 1550.2 348.7C1548.8 348.8 1547.7 347.9 1546.3 347.6C1544.9 347.3 1544 346.8 1542.7 346.8C1541.4 346.8 1540.4 347.3 1539 347.6C1537.6 347.9 1536.8 348.9 1535.3 348.7C1533.8 348.5 1532.3 348 1530.6 346.4C1528.9 344.8 1527.3 343.5 1526 340.2C1524.7 336.9 1523.6 332.1 1523.3 328.6C1523 325.1 1523.8 323 1524.4 321C1525 319 1525.3 319 1526.4 317.9Z"/>
<path d="M1542.0 315.6 C1541.6 309.6 1545.2 304.6 1551.2 303.3 C1552 308.6 1548.6 313.6 1543.6 315.6 Z"/>
</g>
</svg>
</body>
</html>
